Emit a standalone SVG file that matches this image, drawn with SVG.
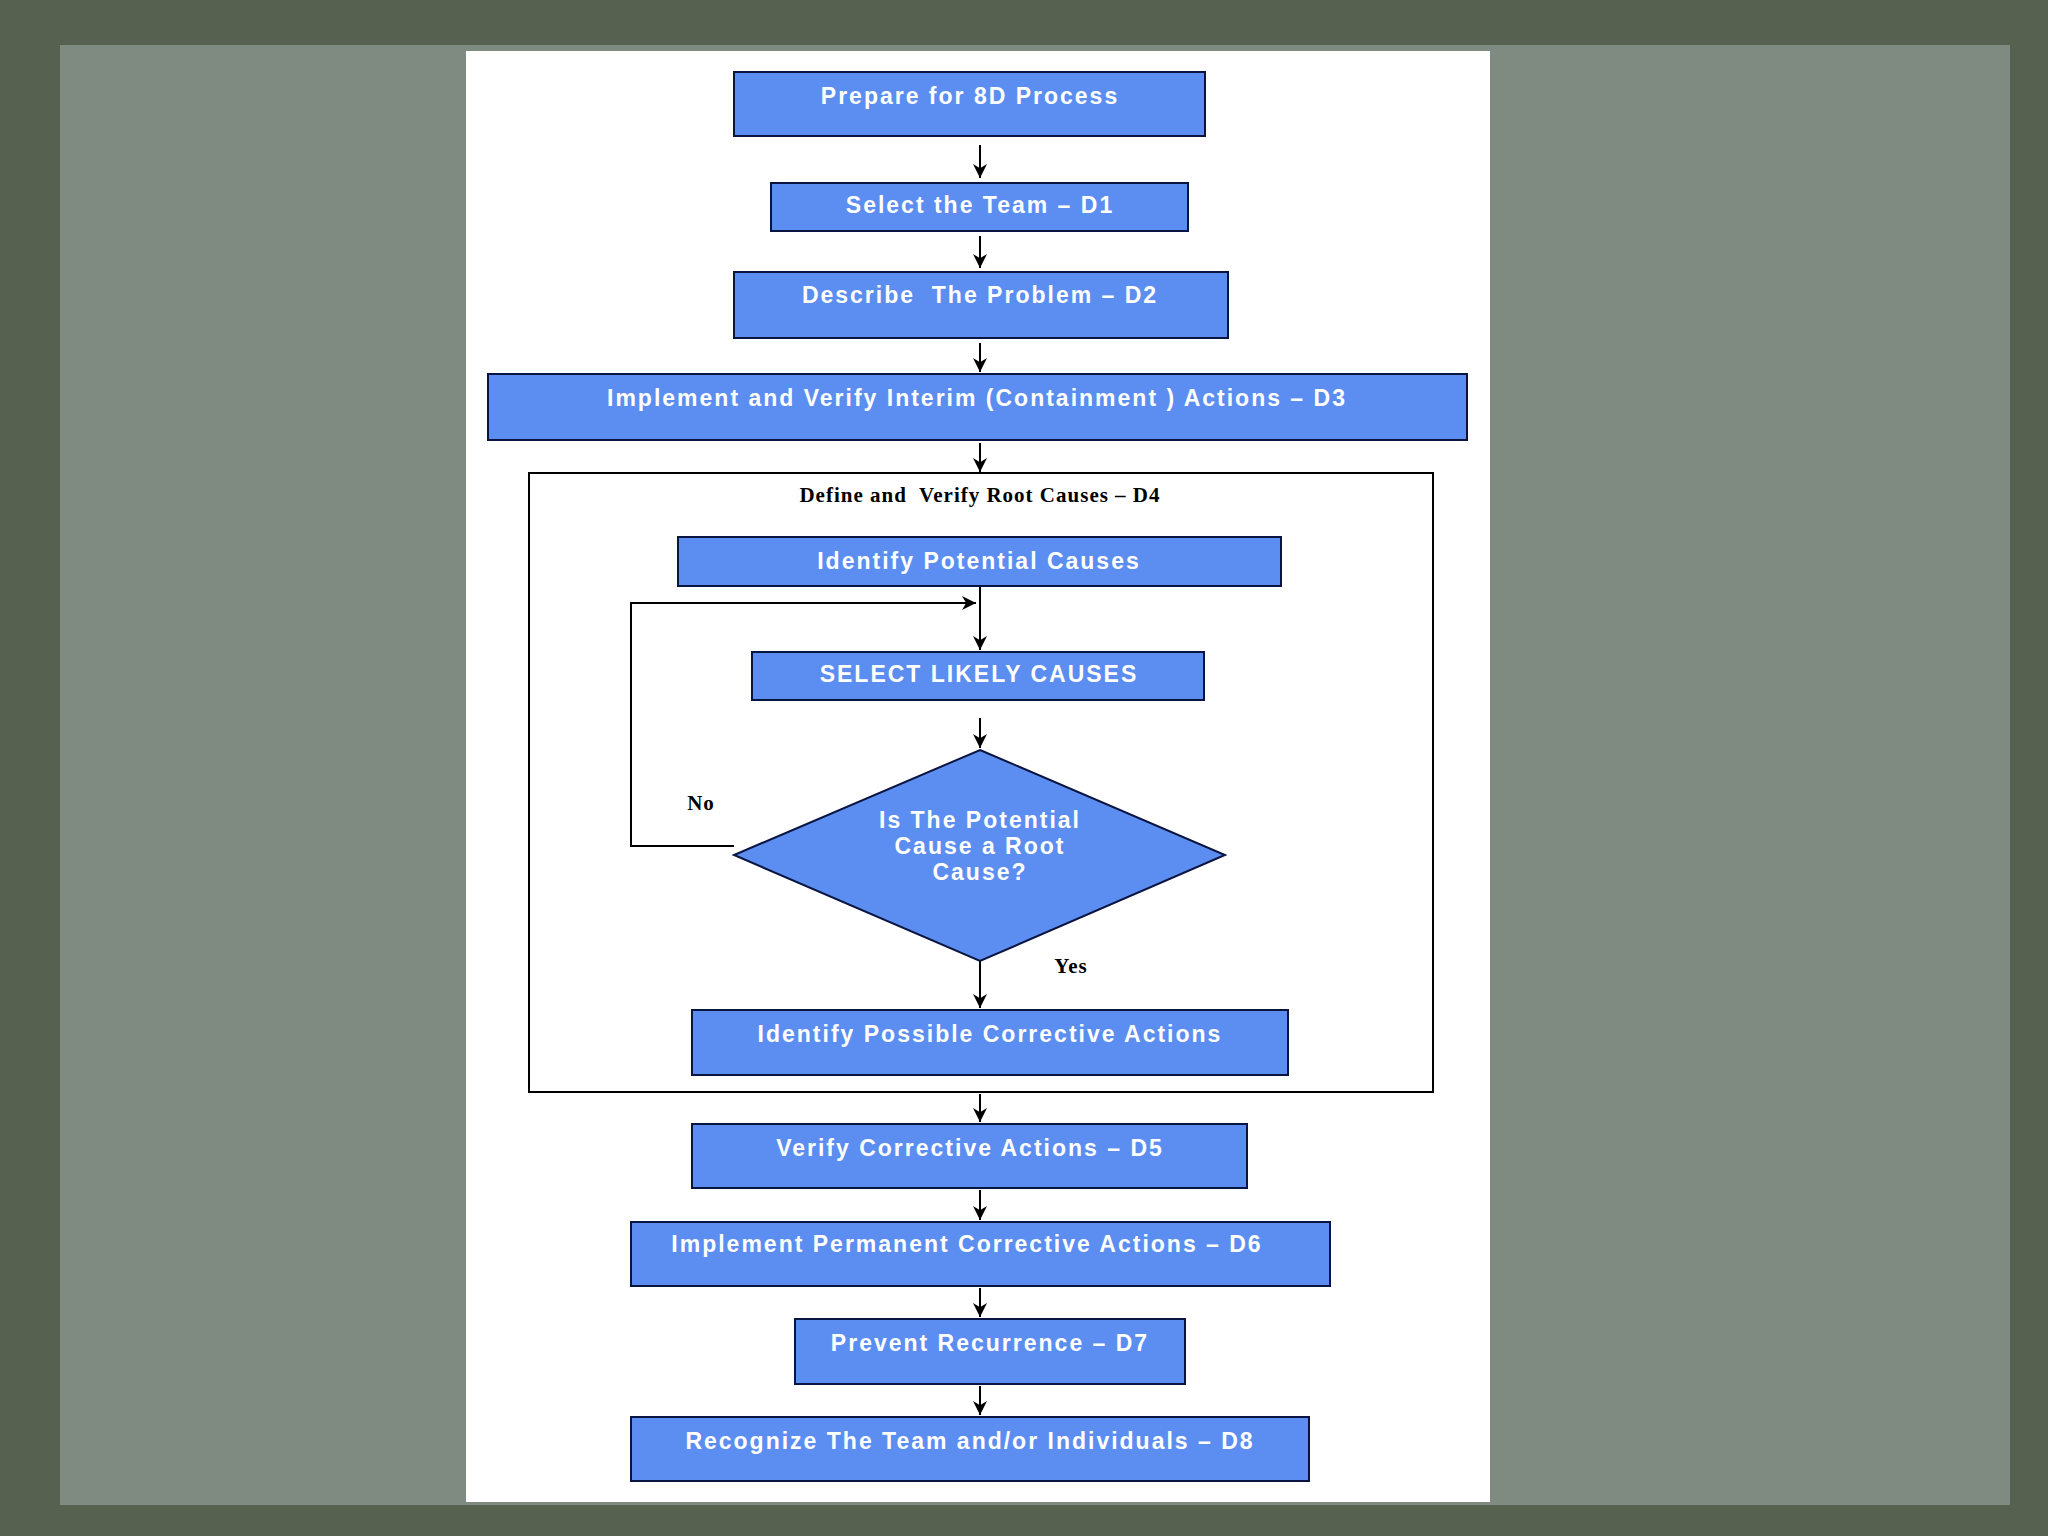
<svg xmlns="http://www.w3.org/2000/svg" width="2048" height="1536" viewBox="0 0 2048 1536">
<defs>
<style>
.b{fill:#5b8ef0;stroke:#0a1440;stroke-width:2}
.t{fill:#fff;font-family:"Liberation Sans",Arial,sans-serif;font-weight:bold;font-size:23px;text-anchor:middle;dominant-baseline:central;letter-spacing:2px}
.s{fill:#000;font-family:"Liberation Serif","Times New Roman",serif;font-weight:bold;font-size:21px;text-anchor:middle;dominant-baseline:central;letter-spacing:1px}
.c{fill:none;stroke:#000;stroke-width:2}
</style>
<marker id="a" viewBox="0 0 10 10" refX="10" refY="5" markerWidth="14" markerHeight="14" markerUnits="userSpaceOnUse" orient="auto"><path d="M0,0 L10,5 L0,10 L3,5 Z" fill="#000"/></marker>
</defs>
<rect width="2048" height="1536" fill="#56624f"/>
<rect x="60" y="45" width="1950" height="1460" fill="#7f8a80"/>
<rect x="466" y="51" width="1024" height="1451" fill="#fff"/>
<g id="d4"><rect x="529" y="473" width="904" height="619" fill="none" stroke="#000" stroke-width="2"/><text class="s" x="980" y="495" xml:space="preserve">Define and  Verify Root Causes – D4</text></g>
<g id="conn" class="c">
<line x1="980" y1="145" x2="980" y2="178" marker-end="url(#a)"/>
<line x1="980" y1="236" x2="980" y2="268" marker-end="url(#a)"/>
<line x1="980" y1="343" x2="980" y2="372" marker-end="url(#a)"/>
<line x1="980" y1="443" x2="980" y2="472" marker-end="url(#a)"/>
<line x1="980" y1="586" x2="980" y2="650" marker-end="url(#a)"/>
<line x1="980" y1="718" x2="980" y2="748" marker-end="url(#a)"/>
<line x1="980" y1="961" x2="980" y2="1008" marker-end="url(#a)"/>
<line x1="980" y1="1094" x2="980" y2="1122" marker-end="url(#a)"/>
<line x1="980" y1="1190" x2="980" y2="1220" marker-end="url(#a)"/>
<line x1="980" y1="1288" x2="980" y2="1317" marker-end="url(#a)"/>
<line x1="980" y1="1386" x2="980" y2="1415" marker-end="url(#a)"/>
<polyline points="734,846 631,846 631,603 976,603" marker-end="url(#a)"/>
</g>
<g id="n1"><rect class="b" x="734" y="72" width="471" height="64"/><text class="t" x="970" y="96">Prepare for 8D Process</text></g>
<g id="n2"><rect class="b" x="771" y="183" width="417" height="48"/><text class="t" x="980" y="205">Select the Team – D1</text></g>
<g id="n3"><rect class="b" x="734" y="272" width="494" height="66"/><text class="t" x="980" y="295" xml:space="preserve">Describe  The Problem – D2</text></g>
<g id="n4"><rect class="b" x="488" y="374" width="979" height="66"/><text class="t" x="977" y="398">Implement and Verify Interim (Containment ) Actions – D3</text></g>
<g id="n5"><rect class="b" x="678" y="537" width="603" height="49"/><text class="t" x="979" y="561">Identify Potential Causes</text></g>
<g id="n6"><rect class="b" x="752" y="652" width="452" height="48"/><text class="t" x="979" y="674">SELECT LIKELY CAUSES</text></g>
<g id="n7"><polygon class="b" points="980,750 1225,855 980,961 734,855"/><text class="t" x="980" y="820">Is The Potential</text><text class="t" x="980" y="846">Cause a Root</text><text class="t" x="980" y="872">Cause?</text></g>
<text class="s" x="701" y="803">No</text>
<text class="s" x="1071" y="966">Yes</text>
<g id="n8"><rect class="b" x="692" y="1010" width="596" height="65"/><text class="t" x="990" y="1034">Identify Possible Corrective Actions</text></g>
<g id="n9"><rect class="b" x="692" y="1124" width="555" height="64"/><text class="t" x="970" y="1148">Verify Corrective Actions – D5</text></g>
<g id="n10"><rect class="b" x="631" y="1222" width="699" height="64"/><text class="t" x="967" y="1244">Implement Permanent Corrective Actions – D6</text></g>
<g id="n11"><rect class="b" x="795" y="1319" width="390" height="65"/><text class="t" x="990" y="1343">Prevent Recurrence – D7</text></g>
<g id="n12"><rect class="b" x="631" y="1417" width="678" height="64"/><text class="t" x="970" y="1441">Recognize The Team and/or Individuals – D8</text></g>
</svg>
